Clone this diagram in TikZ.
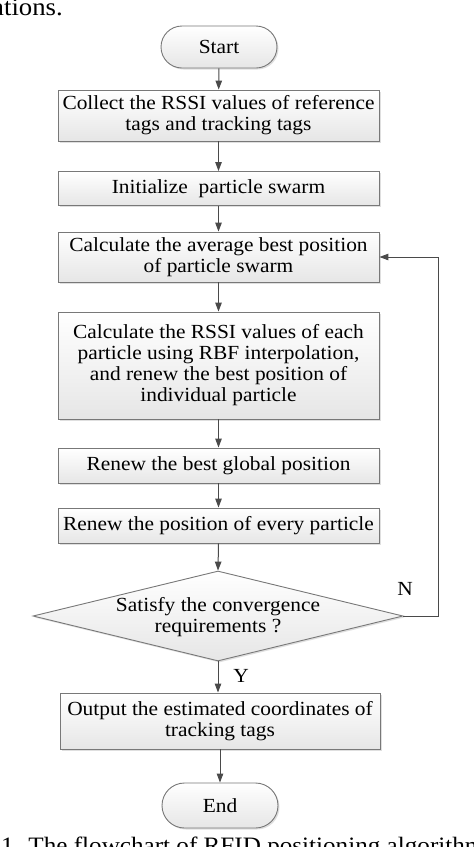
\documentclass[tikz,border=0pt]{standalone}
\usepackage{fontspec}
\setmainfont{Liberation Serif}[FakeStretch=1.07]
\usetikzlibrary{arrows.meta,shapes.geometric,shapes.misc,shadows,calc}
\definecolor{bordergray}{HTML}{787878}
\definecolor{arrowgray}{HTML}{4A4A4A}
\definecolor{fillbot}{HTML}{E6E6E6}
\tikzset{
  boxbase/.style={draw=bordergray, line width=0.9pt, top color=white, bottom color=fillbot,
    drop shadow={opacity=0.25, shadow xshift=1.5pt, shadow yshift=-1.5pt},
    align=center, inner sep=0pt, font=\fontsize{20}{21}\selectfont},
  procbox/.style={boxbase, rectangle, minimum width=321pt},
  termbox/.style={boxbase, rounded rectangle, minimum width=116pt},
  decbox/.style={boxbase, diamond, minimum width=370pt, minimum height=90pt},
  arr/.style={draw=arrowgray, line width=1pt, -{Triangle[length=9pt,width=6.5pt]}},
  lbl/.style={font=\fontsize{20}{21}\selectfont, inner sep=0pt},
}
\begin{document}
\begin{tikzpicture}[x=1pt,y=1pt]
\clip (0,0) rectangle (474,-847);
\fill[white] (0,0) rectangle (474,-847);
\node[anchor=base west, font=\fontsize{25}{27}\selectfont, inner sep=0pt] (prev) at (-8,-15) {ations.};
\node[termbox, minimum height=42pt] (start) at (219,-47) {Start};
\node[procbox, minimum height=51pt] (b1) at (218.5,-115.5) {Collect the RSSI values of reference\\tags and tracking tags};
\node[procbox, minimum height=34pt] (b2) at (218.5,-188.5) {Initialize\ \ particle swarm};
\node[procbox, minimum height=50pt] (b3) at (218.5,-257) {Calculate the average best position\\of particle swarm};
\node[procbox, minimum height=107pt] (b4) at (218.5,-365.5) {Calculate the RSSI values of each\\particle using RBF interpolation,\\and renew the best position of\\individual particle};
\node[procbox, minimum height=35pt] (b5) at (218.5,-465.5) {Renew the best global position};
\node[procbox, minimum height=35pt] (b6) at (218.5,-525.5) {Renew the position of every particle};
\node[decbox] (dia) at (218,-616) {};
\node[lbl, align=center] (diatext) at (218,-617) {Satisfy the convergence\\requirements ?};
\node[procbox, minimum width=320pt, minimum height=56pt] (b7) at (220,-721) {Output the estimated coordinates of\\tracking tags};
\node[termbox, minimum height=45pt] (end) at (220,-805.5) {End};
\node[anchor=base west, font=\fontsize{23.5}{26}\selectfont, inner sep=0pt] (cap) at (1,-853) {1. The flowchart of RFID positioning algorithm};
\coordinate (lp) at (438,-257);
\draw[arr] (start) -- (b1);
\draw[arr] (b1) -- (b2);
\draw[arr] (b2) -- (b3);
\draw[arr] (b3) -- (b4);
\draw[arr] (b4) -- (b5);
\draw[arr] (b5) -- (b6);
\draw[arr] (b6.south) -- (dia.north);
\draw[arr] (dia.south) -- (dia.south |- b7.north);
\draw[arr] (b7.south -| end.north) -- (end.north);
\draw[arr] (dia.east) -| (lp) -- (b3.east);
\node[lbl] (nlab) at (405,-589) {N};
\node[lbl] (ylab) at (241,-676) {Y};
\end{tikzpicture}
\end{document}
